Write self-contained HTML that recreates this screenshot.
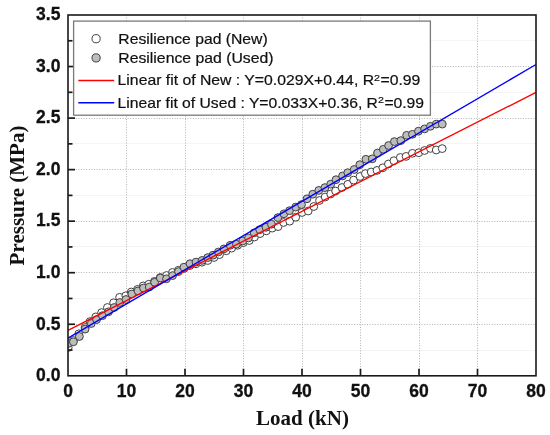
<!DOCTYPE html>
<html><head><meta charset="utf-8"><style>
html,body{margin:0;padding:0;background:#fff;}
svg{display:block;}
</style></head><body>
<svg width="550" height="435" viewBox="0 0 550 435">
<rect x="0" y="0" width="550" height="435" fill="#fff"/>
<g><line x1="68.0" y1="350.50" x2="536.0" y2="350.50" stroke="#f4f4f4" stroke-width="1"/>
<line x1="68.0" y1="324.50" x2="536.0" y2="324.50" stroke="#b4b4b4" stroke-width="1" stroke-dasharray="1 1.6"/>
<line x1="68.0" y1="298.50" x2="536.0" y2="298.50" stroke="#f4f4f4" stroke-width="1"/>
<line x1="68.0" y1="272.50" x2="536.0" y2="272.50" stroke="#b4b4b4" stroke-width="1" stroke-dasharray="1 1.6"/>
<line x1="68.0" y1="246.50" x2="536.0" y2="246.50" stroke="#f4f4f4" stroke-width="1"/>
<line x1="68.0" y1="221.50" x2="536.0" y2="221.50" stroke="#b4b4b4" stroke-width="1" stroke-dasharray="1 1.6"/>
<line x1="68.0" y1="195.50" x2="536.0" y2="195.50" stroke="#f4f4f4" stroke-width="1"/>
<line x1="68.0" y1="169.50" x2="536.0" y2="169.50" stroke="#b4b4b4" stroke-width="1" stroke-dasharray="1 1.6"/>
<line x1="68.0" y1="143.50" x2="536.0" y2="143.50" stroke="#f4f4f4" stroke-width="1"/>
<line x1="68.0" y1="118.50" x2="536.0" y2="118.50" stroke="#b4b4b4" stroke-width="1" stroke-dasharray="1 1.6"/>
<line x1="68.0" y1="92.50" x2="536.0" y2="92.50" stroke="#f4f4f4" stroke-width="1"/>
<line x1="68.0" y1="66.50" x2="536.0" y2="66.50" stroke="#b4b4b4" stroke-width="1" stroke-dasharray="1 1.6"/>
<line x1="68.0" y1="40.50" x2="536.0" y2="40.50" stroke="#f4f4f4" stroke-width="1"/>
<line x1="126.50" y1="15.0" x2="126.50" y2="375.8" stroke="#b4b4b4" stroke-width="1" stroke-dasharray="1 1.6"/>
<line x1="185.50" y1="15.0" x2="185.50" y2="375.8" stroke="#b4b4b4" stroke-width="1" stroke-dasharray="1 1.6"/>
<line x1="243.50" y1="15.0" x2="243.50" y2="375.8" stroke="#b4b4b4" stroke-width="1" stroke-dasharray="1 1.6"/>
<line x1="302.50" y1="15.0" x2="302.50" y2="375.8" stroke="#b4b4b4" stroke-width="1" stroke-dasharray="1 1.6"/>
<line x1="360.50" y1="15.0" x2="360.50" y2="375.8" stroke="#b4b4b4" stroke-width="1" stroke-dasharray="1 1.6"/>
<line x1="419.50" y1="15.0" x2="419.50" y2="375.8" stroke="#b4b4b4" stroke-width="1" stroke-dasharray="1 1.6"/>
<line x1="477.50" y1="15.0" x2="477.50" y2="375.8" stroke="#b4b4b4" stroke-width="1" stroke-dasharray="1 1.6"/></g>
<defs><clipPath id="c"><rect x="68.0" y="15.0" width="468.0" height="360.8"/></clipPath></defs>
<g clip-path="url(#c)" stroke="#404040" stroke-width="1.0">
<circle cx="68.2" cy="347.5" r="3.9" fill="#ffffff"/>
<circle cx="73.4" cy="340.5" r="3.9" fill="#ffffff"/>
<circle cx="78.8" cy="333.8" r="3.9" fill="#ffffff"/>
<circle cx="85.1" cy="327.5" r="3.9" fill="#ffffff"/>
<circle cx="90.0" cy="321.6" r="3.9" fill="#ffffff"/>
<circle cx="95.8" cy="316.9" r="3.9" fill="#ffffff"/>
<circle cx="101.6" cy="312.6" r="3.9" fill="#ffffff"/>
<circle cx="107.4" cy="307.5" r="3.9" fill="#ffffff"/>
<circle cx="113.6" cy="302.8" r="3.9" fill="#ffffff"/>
<circle cx="119.6" cy="297.3" r="3.9" fill="#ffffff"/>
<circle cx="125.8" cy="295.8" r="3.9" fill="#ffffff"/>
<circle cx="131.3" cy="292.0" r="3.9" fill="#ffffff"/>
<circle cx="137.4" cy="289.4" r="3.9" fill="#ffffff"/>
<circle cx="143.2" cy="285.9" r="3.9" fill="#ffffff"/>
<circle cx="148.7" cy="284.3" r="3.9" fill="#ffffff"/>
<circle cx="154.4" cy="281.4" r="3.9" fill="#ffffff"/>
<circle cx="160.3" cy="277.5" r="3.9" fill="#ffffff"/>
<circle cx="166.5" cy="275.5" r="3.9" fill="#ffffff"/>
<circle cx="172.4" cy="272.5" r="3.9" fill="#ffffff"/>
<circle cx="178.3" cy="270.3" r="3.9" fill="#ffffff"/>
<circle cx="184.0" cy="268.5" r="3.9" fill="#ffffff"/>
<circle cx="190.0" cy="265.5" r="3.9" fill="#ffffff"/>
<circle cx="196.0" cy="263.8" r="3.9" fill="#ffffff"/>
<circle cx="202.0" cy="262.2" r="3.9" fill="#ffffff"/>
<circle cx="207.8" cy="260.5" r="3.9" fill="#ffffff"/>
<circle cx="214.0" cy="257.5" r="3.9" fill="#ffffff"/>
<circle cx="219.5" cy="254.6" r="3.9" fill="#ffffff"/>
<circle cx="226.3" cy="250.8" r="3.9" fill="#ffffff"/>
<circle cx="231.7" cy="248.1" r="3.9" fill="#ffffff"/>
<circle cx="237.6" cy="245.3" r="3.9" fill="#ffffff"/>
<circle cx="243.4" cy="242.6" r="3.9" fill="#ffffff"/>
<circle cx="249.3" cy="240.5" r="3.9" fill="#ffffff"/>
<circle cx="254.5" cy="237.0" r="3.9" fill="#ffffff"/>
<circle cx="260.1" cy="233.6" r="3.9" fill="#ffffff"/>
<circle cx="266.4" cy="230.9" r="3.9" fill="#ffffff"/>
<circle cx="272.2" cy="228.1" r="3.9" fill="#ffffff"/>
<circle cx="278.1" cy="226.6" r="3.9" fill="#ffffff"/>
<circle cx="283.6" cy="222.5" r="3.9" fill="#ffffff"/>
<circle cx="289.7" cy="221.2" r="3.9" fill="#ffffff"/>
<circle cx="295.7" cy="217.2" r="3.9" fill="#ffffff"/>
<circle cx="302.0" cy="212.5" r="3.9" fill="#ffffff"/>
<circle cx="308.2" cy="211.0" r="3.9" fill="#ffffff"/>
<circle cx="313.8" cy="206.5" r="3.9" fill="#ffffff"/>
<circle cx="319.5" cy="200.5" r="3.9" fill="#ffffff"/>
<circle cx="325.2" cy="197.0" r="3.9" fill="#ffffff"/>
<circle cx="330.7" cy="194.0" r="3.9" fill="#ffffff"/>
<circle cx="335.6" cy="191.0" r="3.9" fill="#ffffff"/>
<circle cx="342.0" cy="187.5" r="3.9" fill="#ffffff"/>
<circle cx="347.8" cy="184.3" r="3.9" fill="#ffffff"/>
<circle cx="353.6" cy="180.1" r="3.9" fill="#ffffff"/>
<circle cx="360.0" cy="176.5" r="3.9" fill="#ffffff"/>
<circle cx="365.4" cy="173.6" r="3.9" fill="#ffffff"/>
<circle cx="371.2" cy="172.0" r="3.9" fill="#ffffff"/>
<circle cx="377.0" cy="170.4" r="3.9" fill="#ffffff"/>
<circle cx="382.8" cy="167.8" r="3.9" fill="#ffffff"/>
<circle cx="388.4" cy="164.0" r="3.9" fill="#ffffff"/>
<circle cx="393.9" cy="160.7" r="3.9" fill="#ffffff"/>
<circle cx="400.3" cy="157.5" r="3.9" fill="#ffffff"/>
<circle cx="406.1" cy="156.4" r="3.9" fill="#ffffff"/>
<circle cx="412.4" cy="153.3" r="3.9" fill="#ffffff"/>
<circle cx="418.8" cy="152.7" r="3.9" fill="#ffffff"/>
<circle cx="424.6" cy="150.5" r="3.9" fill="#ffffff"/>
<circle cx="430.4" cy="148.4" r="3.9" fill="#ffffff"/>
<circle cx="436.2" cy="150.0" r="3.9" fill="#ffffff"/>
<circle cx="442.2" cy="148.6" r="3.9" fill="#ffffff"/>
<circle cx="68.2" cy="343.5" r="3.9" fill="#bdbdbd"/>
<circle cx="73.4" cy="341.8" r="3.9" fill="#bdbdbd"/>
<circle cx="79.4" cy="336.5" r="3.9" fill="#bdbdbd"/>
<circle cx="85.1" cy="329.1" r="3.9" fill="#bdbdbd"/>
<circle cx="91.3" cy="323.5" r="3.9" fill="#bdbdbd"/>
<circle cx="96.6" cy="319.6" r="3.9" fill="#bdbdbd"/>
<circle cx="102.4" cy="315.7" r="3.9" fill="#bdbdbd"/>
<circle cx="108.5" cy="311.8" r="3.9" fill="#bdbdbd"/>
<circle cx="114.2" cy="307.5" r="3.9" fill="#bdbdbd"/>
<circle cx="119.8" cy="302.5" r="3.9" fill="#bdbdbd"/>
<circle cx="126.0" cy="299.5" r="3.9" fill="#bdbdbd"/>
<circle cx="131.8" cy="294.0" r="3.9" fill="#bdbdbd"/>
<circle cx="138.0" cy="290.9" r="3.9" fill="#bdbdbd"/>
<circle cx="143.5" cy="288.0" r="3.9" fill="#bdbdbd"/>
<circle cx="149.2" cy="287.0" r="3.9" fill="#bdbdbd"/>
<circle cx="154.6" cy="282.3" r="3.9" fill="#bdbdbd"/>
<circle cx="160.3" cy="278.0" r="3.9" fill="#bdbdbd"/>
<circle cx="166.5" cy="278.8" r="3.9" fill="#bdbdbd"/>
<circle cx="172.6" cy="275.6" r="3.9" fill="#bdbdbd"/>
<circle cx="178.5" cy="271.6" r="3.9" fill="#bdbdbd"/>
<circle cx="183.9" cy="267.2" r="3.9" fill="#bdbdbd"/>
<circle cx="190.0" cy="263.7" r="3.9" fill="#bdbdbd"/>
<circle cx="196.0" cy="262.1" r="3.9" fill="#bdbdbd"/>
<circle cx="202.1" cy="260.4" r="3.9" fill="#bdbdbd"/>
<circle cx="207.7" cy="257.6" r="3.9" fill="#bdbdbd"/>
<circle cx="213.0" cy="255.2" r="3.9" fill="#bdbdbd"/>
<circle cx="218.4" cy="252.0" r="3.9" fill="#bdbdbd"/>
<circle cx="223.9" cy="248.9" r="3.9" fill="#bdbdbd"/>
<circle cx="230.2" cy="245.3" r="3.9" fill="#bdbdbd"/>
<circle cx="236.4" cy="244.2" r="3.9" fill="#bdbdbd"/>
<circle cx="242.7" cy="241.0" r="3.9" fill="#bdbdbd"/>
<circle cx="248.5" cy="237.9" r="3.9" fill="#bdbdbd"/>
<circle cx="254.2" cy="232.8" r="3.9" fill="#bdbdbd"/>
<circle cx="259.7" cy="229.7" r="3.9" fill="#bdbdbd"/>
<circle cx="266.0" cy="227.3" r="3.9" fill="#bdbdbd"/>
<circle cx="271.4" cy="224.2" r="3.9" fill="#bdbdbd"/>
<circle cx="277.9" cy="217.6" r="3.9" fill="#bdbdbd"/>
<circle cx="283.9" cy="213.8" r="3.9" fill="#bdbdbd"/>
<circle cx="289.5" cy="210.7" r="3.9" fill="#bdbdbd"/>
<circle cx="295.7" cy="207.1" r="3.9" fill="#bdbdbd"/>
<circle cx="301.5" cy="204.6" r="3.9" fill="#bdbdbd"/>
<circle cx="307.0" cy="198.8" r="3.9" fill="#bdbdbd"/>
<circle cx="312.8" cy="194.2" r="3.9" fill="#bdbdbd"/>
<circle cx="318.8" cy="190.4" r="3.9" fill="#bdbdbd"/>
<circle cx="324.9" cy="187.6" r="3.9" fill="#bdbdbd"/>
<circle cx="330.7" cy="184.2" r="3.9" fill="#bdbdbd"/>
<circle cx="336.0" cy="179.7" r="3.9" fill="#bdbdbd"/>
<circle cx="342.6" cy="175.9" r="3.9" fill="#bdbdbd"/>
<circle cx="347.8" cy="172.7" r="3.9" fill="#bdbdbd"/>
<circle cx="354.2" cy="169.5" r="3.9" fill="#bdbdbd"/>
<circle cx="359.8" cy="164.7" r="3.9" fill="#bdbdbd"/>
<circle cx="365.9" cy="159.3" r="3.9" fill="#bdbdbd"/>
<circle cx="372.3" cy="158.8" r="3.9" fill="#bdbdbd"/>
<circle cx="377.5" cy="153.0" r="3.9" fill="#bdbdbd"/>
<circle cx="383.3" cy="149.3" r="3.9" fill="#bdbdbd"/>
<circle cx="388.6" cy="145.5" r="3.9" fill="#bdbdbd"/>
<circle cx="394.4" cy="141.6" r="3.9" fill="#bdbdbd"/>
<circle cx="400.8" cy="140.6" r="3.9" fill="#bdbdbd"/>
<circle cx="406.6" cy="135.3" r="3.9" fill="#bdbdbd"/>
<circle cx="412.4" cy="134.3" r="3.9" fill="#bdbdbd"/>
<circle cx="418.4" cy="131.2" r="3.9" fill="#bdbdbd"/>
<circle cx="424.6" cy="128.9" r="3.9" fill="#bdbdbd"/>
<circle cx="430.4" cy="126.3" r="3.9" fill="#bdbdbd"/>
<circle cx="436.2" cy="124.1" r="3.9" fill="#bdbdbd"/>
<circle cx="442.3" cy="124.1" r="3.9" fill="#bdbdbd"/>
</g>
<line x1="68.0" y1="330.3" x2="536.0" y2="92.4" stroke="#ff0000" stroke-width="1.35"/>
<line x1="68.0" y1="338.1" x2="536.0" y2="64.5" stroke="#0000ff" stroke-width="1.35"/>
<rect x="68.0" y="15.0" width="468.0" height="360.8" fill="none" stroke="#1a1a1a" stroke-width="1.6"/>
<line x1="126.50" y1="375.8" x2="126.50" y2="368.8" stroke="#1a1a1a" stroke-width="1.7"/>
<line x1="185.00" y1="375.8" x2="185.00" y2="368.8" stroke="#1a1a1a" stroke-width="1.7"/>
<line x1="243.50" y1="375.8" x2="243.50" y2="368.8" stroke="#1a1a1a" stroke-width="1.7"/>
<line x1="302.00" y1="375.8" x2="302.00" y2="368.8" stroke="#1a1a1a" stroke-width="1.7"/>
<line x1="360.50" y1="375.8" x2="360.50" y2="368.8" stroke="#1a1a1a" stroke-width="1.7"/>
<line x1="419.00" y1="375.8" x2="419.00" y2="368.8" stroke="#1a1a1a" stroke-width="1.7"/>
<line x1="477.50" y1="375.8" x2="477.50" y2="368.8" stroke="#1a1a1a" stroke-width="1.7"/>
<line x1="68.0" y1="350.03" x2="72.5" y2="350.03" stroke="#1a1a1a" stroke-width="1.7"/>
<line x1="68.0" y1="324.26" x2="75.0" y2="324.26" stroke="#1a1a1a" stroke-width="1.7"/>
<line x1="68.0" y1="298.49" x2="72.5" y2="298.49" stroke="#1a1a1a" stroke-width="1.7"/>
<line x1="68.0" y1="272.71" x2="75.0" y2="272.71" stroke="#1a1a1a" stroke-width="1.7"/>
<line x1="68.0" y1="246.94" x2="72.5" y2="246.94" stroke="#1a1a1a" stroke-width="1.7"/>
<line x1="68.0" y1="221.17" x2="75.0" y2="221.17" stroke="#1a1a1a" stroke-width="1.7"/>
<line x1="68.0" y1="195.40" x2="72.5" y2="195.40" stroke="#1a1a1a" stroke-width="1.7"/>
<line x1="68.0" y1="169.63" x2="75.0" y2="169.63" stroke="#1a1a1a" stroke-width="1.7"/>
<line x1="68.0" y1="143.86" x2="72.5" y2="143.86" stroke="#1a1a1a" stroke-width="1.7"/>
<line x1="68.0" y1="118.09" x2="75.0" y2="118.09" stroke="#1a1a1a" stroke-width="1.7"/>
<line x1="68.0" y1="92.31" x2="72.5" y2="92.31" stroke="#1a1a1a" stroke-width="1.7"/>
<line x1="68.0" y1="66.54" x2="75.0" y2="66.54" stroke="#1a1a1a" stroke-width="1.7"/>
<line x1="68.0" y1="40.77" x2="72.5" y2="40.77" stroke="#1a1a1a" stroke-width="1.7"/>
<rect x="73.6" y="21.1" width="356.8" height="94.1" fill="#fff" stroke="#7a7a7a" stroke-width="1.3"/>
<circle cx="96.1" cy="38.7" r="4.1" fill="#fff" stroke="#404040" stroke-width="1.0"/>
<circle cx="96.1" cy="57.9" r="4.1" fill="#bdbdbd" stroke="#404040" stroke-width="1.0"/>
<line x1="78.3" y1="80.5" x2="114.2" y2="80.5" stroke="#ff0000" stroke-width="1.5"/>
<line x1="78.3" y1="102.8" x2="114.2" y2="102.8" stroke="#0000ff" stroke-width="1.5"/>
<text transform="translate(118.3,43.6) scale(1.108,1)" x="0" y="0" font-family="&apos;Liberation Sans&apos;, Arial, sans-serif" font-size="14.2" fill="#111" stroke="#111" stroke-width="0.2">Resilience pad (New)</text>
<text transform="translate(118.3,62.7) scale(1.112,1)" x="0" y="0" font-family="&apos;Liberation Sans&apos;, Arial, sans-serif" font-size="14.2" fill="#111" stroke="#111" stroke-width="0.2">Resilience pad (Used)</text>
<text transform="translate(117.6,85.3) scale(1.11,1)" x="0" y="0" font-family="&apos;Liberation Sans&apos;, Arial, sans-serif" font-size="14.2" fill="#111" stroke="#111" stroke-width="0.2">Linear fit of New : Y=0.029X+0.44, R<tspan font-size="9.6" dy="-4.6">2</tspan><tspan dy="4.6" dx="0.5">=0.99</tspan></text>
<text transform="translate(117.6,107.7) scale(1.105,1)" x="0" y="0" font-family="&apos;Liberation Sans&apos;, Arial, sans-serif" font-size="14.2" fill="#111" stroke="#111" stroke-width="0.2">Linear fit of Used : Y=0.033X+0.36, R<tspan font-size="9.6" dy="-4.6">2</tspan><tspan dy="4.6" dx="0.5">=0.99</tspan></text>
<text x="68.0" y="397.1" text-anchor="middle" font-family="&apos;Liberation Sans&apos;, Arial, sans-serif" font-weight="bold" font-size="17.5" fill="#111" stroke="#111" stroke-width="0.3">0</text>
<text x="126.5" y="397.1" text-anchor="middle" font-family="&apos;Liberation Sans&apos;, Arial, sans-serif" font-weight="bold" font-size="17.5" fill="#111" stroke="#111" stroke-width="0.3">10</text>
<text x="185.0" y="397.1" text-anchor="middle" font-family="&apos;Liberation Sans&apos;, Arial, sans-serif" font-weight="bold" font-size="17.5" fill="#111" stroke="#111" stroke-width="0.3">20</text>
<text x="243.5" y="397.1" text-anchor="middle" font-family="&apos;Liberation Sans&apos;, Arial, sans-serif" font-weight="bold" font-size="17.5" fill="#111" stroke="#111" stroke-width="0.3">30</text>
<text x="302.0" y="397.1" text-anchor="middle" font-family="&apos;Liberation Sans&apos;, Arial, sans-serif" font-weight="bold" font-size="17.5" fill="#111" stroke="#111" stroke-width="0.3">40</text>
<text x="360.5" y="397.1" text-anchor="middle" font-family="&apos;Liberation Sans&apos;, Arial, sans-serif" font-weight="bold" font-size="17.5" fill="#111" stroke="#111" stroke-width="0.3">50</text>
<text x="419.0" y="397.1" text-anchor="middle" font-family="&apos;Liberation Sans&apos;, Arial, sans-serif" font-weight="bold" font-size="17.5" fill="#111" stroke="#111" stroke-width="0.3">60</text>
<text x="477.5" y="397.1" text-anchor="middle" font-family="&apos;Liberation Sans&apos;, Arial, sans-serif" font-weight="bold" font-size="17.5" fill="#111" stroke="#111" stroke-width="0.3">70</text>
<text x="536.0" y="397.1" text-anchor="middle" font-family="&apos;Liberation Sans&apos;, Arial, sans-serif" font-weight="bold" font-size="17.5" fill="#111" stroke="#111" stroke-width="0.3">80</text>
<text x="60.4" y="381.0" text-anchor="end" font-family="&apos;Liberation Sans&apos;, Arial, sans-serif" font-weight="bold" font-size="17.5" fill="#111" stroke="#111" stroke-width="0.3">0.0</text>
<text x="60.4" y="329.5" text-anchor="end" font-family="&apos;Liberation Sans&apos;, Arial, sans-serif" font-weight="bold" font-size="17.5" fill="#111" stroke="#111" stroke-width="0.3">0.5</text>
<text x="60.4" y="277.9" text-anchor="end" font-family="&apos;Liberation Sans&apos;, Arial, sans-serif" font-weight="bold" font-size="17.5" fill="#111" stroke="#111" stroke-width="0.3">1.0</text>
<text x="60.4" y="226.4" text-anchor="end" font-family="&apos;Liberation Sans&apos;, Arial, sans-serif" font-weight="bold" font-size="17.5" fill="#111" stroke="#111" stroke-width="0.3">1.5</text>
<text x="60.4" y="174.8" text-anchor="end" font-family="&apos;Liberation Sans&apos;, Arial, sans-serif" font-weight="bold" font-size="17.5" fill="#111" stroke="#111" stroke-width="0.3">2.0</text>
<text x="60.4" y="123.3" text-anchor="end" font-family="&apos;Liberation Sans&apos;, Arial, sans-serif" font-weight="bold" font-size="17.5" fill="#111" stroke="#111" stroke-width="0.3">2.5</text>
<text x="60.4" y="71.7" text-anchor="end" font-family="&apos;Liberation Sans&apos;, Arial, sans-serif" font-weight="bold" font-size="17.5" fill="#111" stroke="#111" stroke-width="0.3">3.0</text>
<text x="60.4" y="20.2" text-anchor="end" font-family="&apos;Liberation Sans&apos;, Arial, sans-serif" font-weight="bold" font-size="17.5" fill="#111" stroke="#111" stroke-width="0.3">3.5</text>
<text x="302.5" y="424.6" text-anchor="middle" font-family="&apos;Liberation Serif&apos;, &apos;Times New Roman&apos;, serif" font-weight="bold" font-size="21" fill="#111">Load (kN)</text>
<text x="0" y="0" transform="translate(24.0,195.5) rotate(-90)" text-anchor="middle" font-family="&apos;Liberation Serif&apos;, &apos;Times New Roman&apos;, serif" font-weight="bold" font-size="21" fill="#111">Pressure (MPa)</text>
</svg></body></html>
